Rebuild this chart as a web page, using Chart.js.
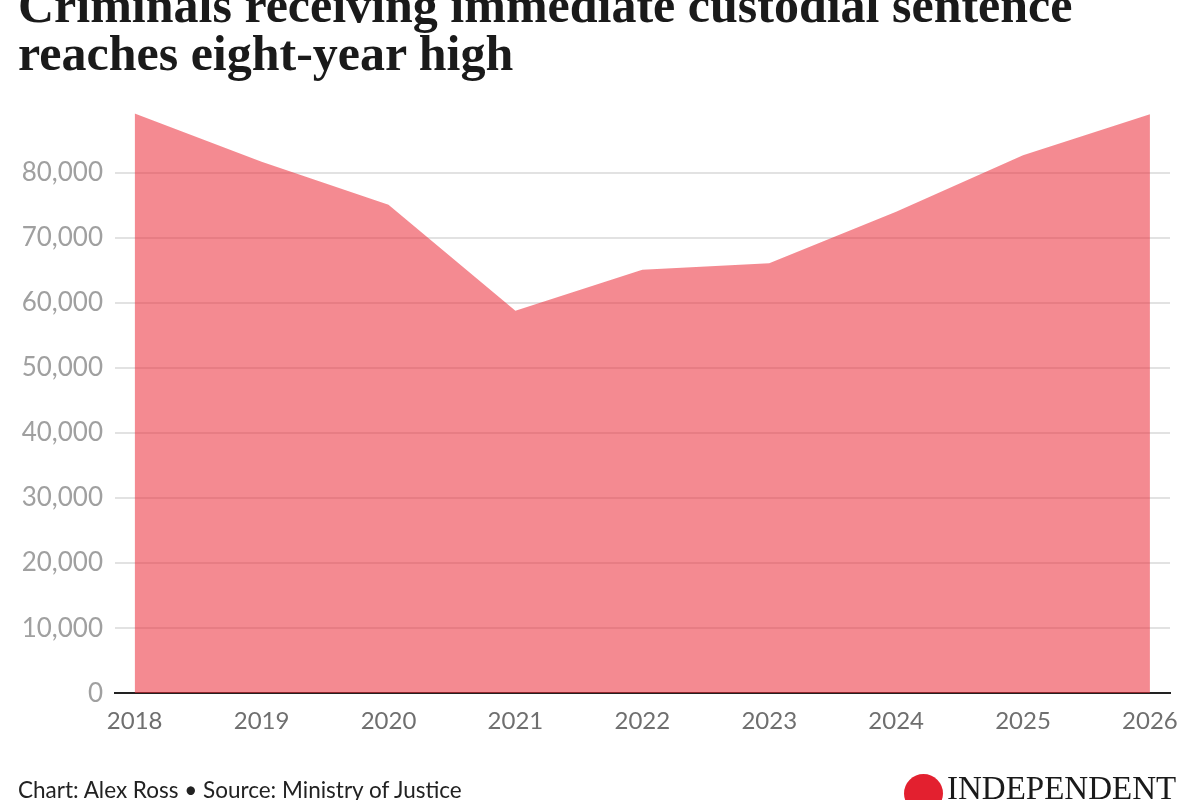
<!DOCTYPE html>
<html>
<head>
<meta charset="utf-8">
<script src="https://cdn.jsdelivr.net/npm/chart.js@4.4.1/dist/chart.umd.min.js"></script>
<style>
  html, body { margin: 0; padding: 0; background: #fff; }
  #wrap { position: relative; width: 1200px; height: 800px; overflow: hidden; }
  #chart { position: absolute; left: 0; top: 0; }
  .title {
    position: absolute; left: 18px; top: -19px;
    font-family: "Liberation Serif", serif; font-weight: bold;
    font-size: 50px; line-height: 48px; color: #1a1a1a;
    white-space: nowrap;
  }
  .source {
    position: absolute; left: 18px; top: 779px;
    font-family: Lato, sans-serif; font-size: 22.5px; line-height: 22px;
    color: #222; white-space: nowrap;
  }
  .logo-dot {
    position: absolute; left: 904px; top: 774px;
    width: 39px; height: 39px; border-radius: 50%; background: #e3202f;
  }
  .logo-text {
    position: absolute; left: 947px; top: 772px;
    font-family: "Liberation Serif", serif; font-size: 33px; line-height: 33px;
    color: #1a1a1a; white-space: nowrap;
  }
</style>
</head>
<body>
<div id="wrap">
  <canvas id="chart" width="1200" height="800"></canvas>
  <div class="title">Criminals receiving immediate custodial sentence<br>reaches eight-year high</div>
  <div class="source">Chart: Alex Ross • Source: Ministry of Justice</div>
  <div class="logo-dot"></div>
  <div class="logo-text">INDEPENDENT</div>
</div>
<script>
const years = [2018, 2019, 2020, 2021, 2022, 2023, 2024, 2025, 2026];
const custodial = [89100, 81700, 75100, 58800, 65100, 66100, 74000, 82700, 89000];
const yTicks = [0, 10000, 20000, 30000, 40000, 50000, 60000, 70000, 80000];

const ctx = document.getElementById('chart');
new Chart(ctx, {
  type: 'line',
  data: {
    datasets: [{
      label: 'Immediate custodial sentences',
      data: years.map((y, i) => ({ x: y, y: custodial[i] })),
      fill: 'origin',
      backgroundColor: 'rgba(235, 41, 55, 0.55)',
      borderWidth: 0,
      pointRadius: 0,
      tension: 0
    }]
  },
  options: {
    responsive: false,
    animation: false,
    devicePixelRatio: 1,
    layout: { padding: { top: 111, right: 30, bottom: 50, left: 0 } },
    plugins: { legend: { display: false }, tooltip: { enabled: false } },
    scales: {
      x: {
        type: 'linear',
        min: 2017.845,
        max: 2026.158,
        afterBuildTicks: scale => { scale.ticks = years.map(v => ({ value: v })); },
        grid: { display: false, drawTicks: false },
        border: { display: true, color: '#222', width: 2 },
        ticks: {
          padding: 14,
          color: '#6f6f6f',
          font: { family: 'Lato', size: 24 },
          callback: v => String(v),
          maxRotation: 0
        }
      },
      y: {
        min: 0,
        max: 89500,
        afterBuildTicks: scale => { scale.ticks = yTicks.map(v => ({ value: v })); },
        afterFit: scale => { scale.width = 115; },
        grid: { color: '#e2e2e2', lineWidth: 2, drawTicks: false },
        border: { display: false },
        ticks: {
          padding: 12,
          color: '#a0a0a0',
          font: { family: 'Lato', size: 26 },
          callback: v => v.toLocaleString('en-US')
        }
      }
    }
  }
});
</script>
</body>
</html>
